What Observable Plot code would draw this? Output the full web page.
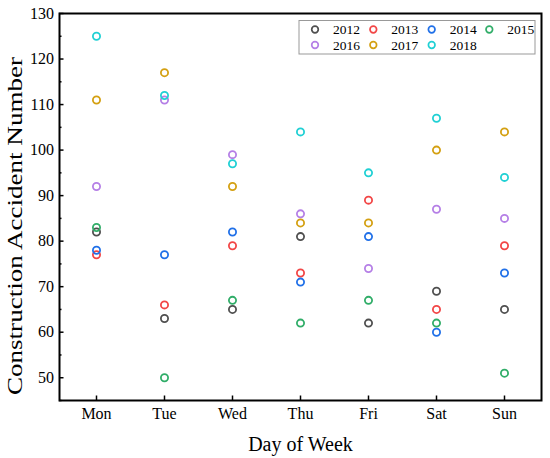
<!DOCTYPE html>
<html><head><meta charset="utf-8">
<script src="https://cdn.jsdelivr.net/npm/d3@7"></script>
<script src="https://cdn.jsdelivr.net/npm/@observablehq/plot@0.6"></script>
<style>body{margin:0;background:#fff} #chart{width:550px;height:458px} #chart text{font-family:'Liberation Serif','Times New Roman',serif}</style>
</head><body><div id="chart"></div>
<script>
const days = ["Mon","Tue","Wed","Thu","Fri","Sat","Sun"];
const years = ["2012","2013","2014","2015","2016","2017","2018"];
const colors = ["#4f4f4f","#f24646","#2070e8","#30ad68","#b57fe6","#d4a012","#20d0d4"];
const v2012 = [82,63,65,81,62,69,65];
const v2013 = [77,66,79,73,89,65,79];
const v2014 = [78,77,82,71,81,60,73];
const v2015 = [83,50,67,62,67,62,51];
const v2016 = [92,111,99,86,74,87,85];
const v2017 = [111,117,92,84,84,100,104];
const v2018 = [125,112,97,104,95,107,94];
const majorTicks = [50,60,70,80,90,100,110,120,130];
const minorTicks = [45,55,65,75,85,95,105,115,125];
const series = [v2012,v2013,v2014,v2015,v2016,v2017,v2018];
const data = years.flatMap((y,i)=>days.map((d,j)=>({day:d, year:y, value:series[i][j]})));

const font = "'Liberation Serif', 'Times New Roman', serif";
const chart = Plot.plot({
  width:550, height:458, marginTop:13, marginBottom:58, marginLeft:59, marginRight:9,
  style:{fontFamily:font, fontSize:"16px", color:"#000", background:"#fff"},
  x:{type:"point", domain:days, padding:0.5, label:null},
  y:{domain:[45,130], label:null},
  color:{domain:years, range:colors},
  marks:[
    Plot.axisY(minorTicks, {tickSize:-2.5, text:null, label:null, strokeWidth:1.5}),
    Plot.axisY(majorTicks, {tickSize:-4.5, tickPadding:10, fontSize:16, label:null, strokeWidth:1.5}),
    Plot.axisX({tickSize:-4.5, tickPadding:12, fontSize:16, label:null, strokeWidth:1.5}),
    Plot.frame({stroke:"#000", strokeWidth:2}),
    Plot.dot(data, {x:"day", y:"value", stroke:"year", r:3.6, strokeWidth:1.8, fill:"none"}),
    Plot.text(["Day of Week"], {frameAnchor:"bottom", dy:44, fontSize:20, lineAnchor:"middle", fontFamily:font})
  ]
});
document.getElementById("chart").appendChild(chart);

const svg = d3.select(chart);
svg.append("text")
  .attr("transform","translate(21.5,226) rotate(-90)")
  .attr("text-anchor","middle")
  .style("font-family",font).attr("font-size",20)
  .attr("textLength",338).attr("lengthAdjust","spacingAndGlyphs")
  .attr("fill","#000")
  .text("Construction Accident Number");

const lg = svg.append("g").style("font-family",font).attr("font-size",13.5).attr("text-anchor","start");
lg.append("rect").attr("x",299).attr("y",20.5).attr("width",236).attr("height",33.5)
  .attr("fill","#fff").attr("stroke","#999").attr("stroke-width",1);
const colX = [315,373.3,431.7,489.3];
years.forEach((y,i)=>{
  const cx = colX[i%4], cy = i<4 ? 29.5 : 45;
  lg.append("circle").attr("cx",cx).attr("cy",cy).attr("r",3.3)
    .attr("fill","none").attr("stroke",colors[i]).attr("stroke-width",1.7);
  lg.append("text").attr("x",cx+18).attr("y",cy).attr("dy","0.34em").attr("fill","#000")
    .attr("text-anchor","start").text(y);
});
</script>
</body></html>
